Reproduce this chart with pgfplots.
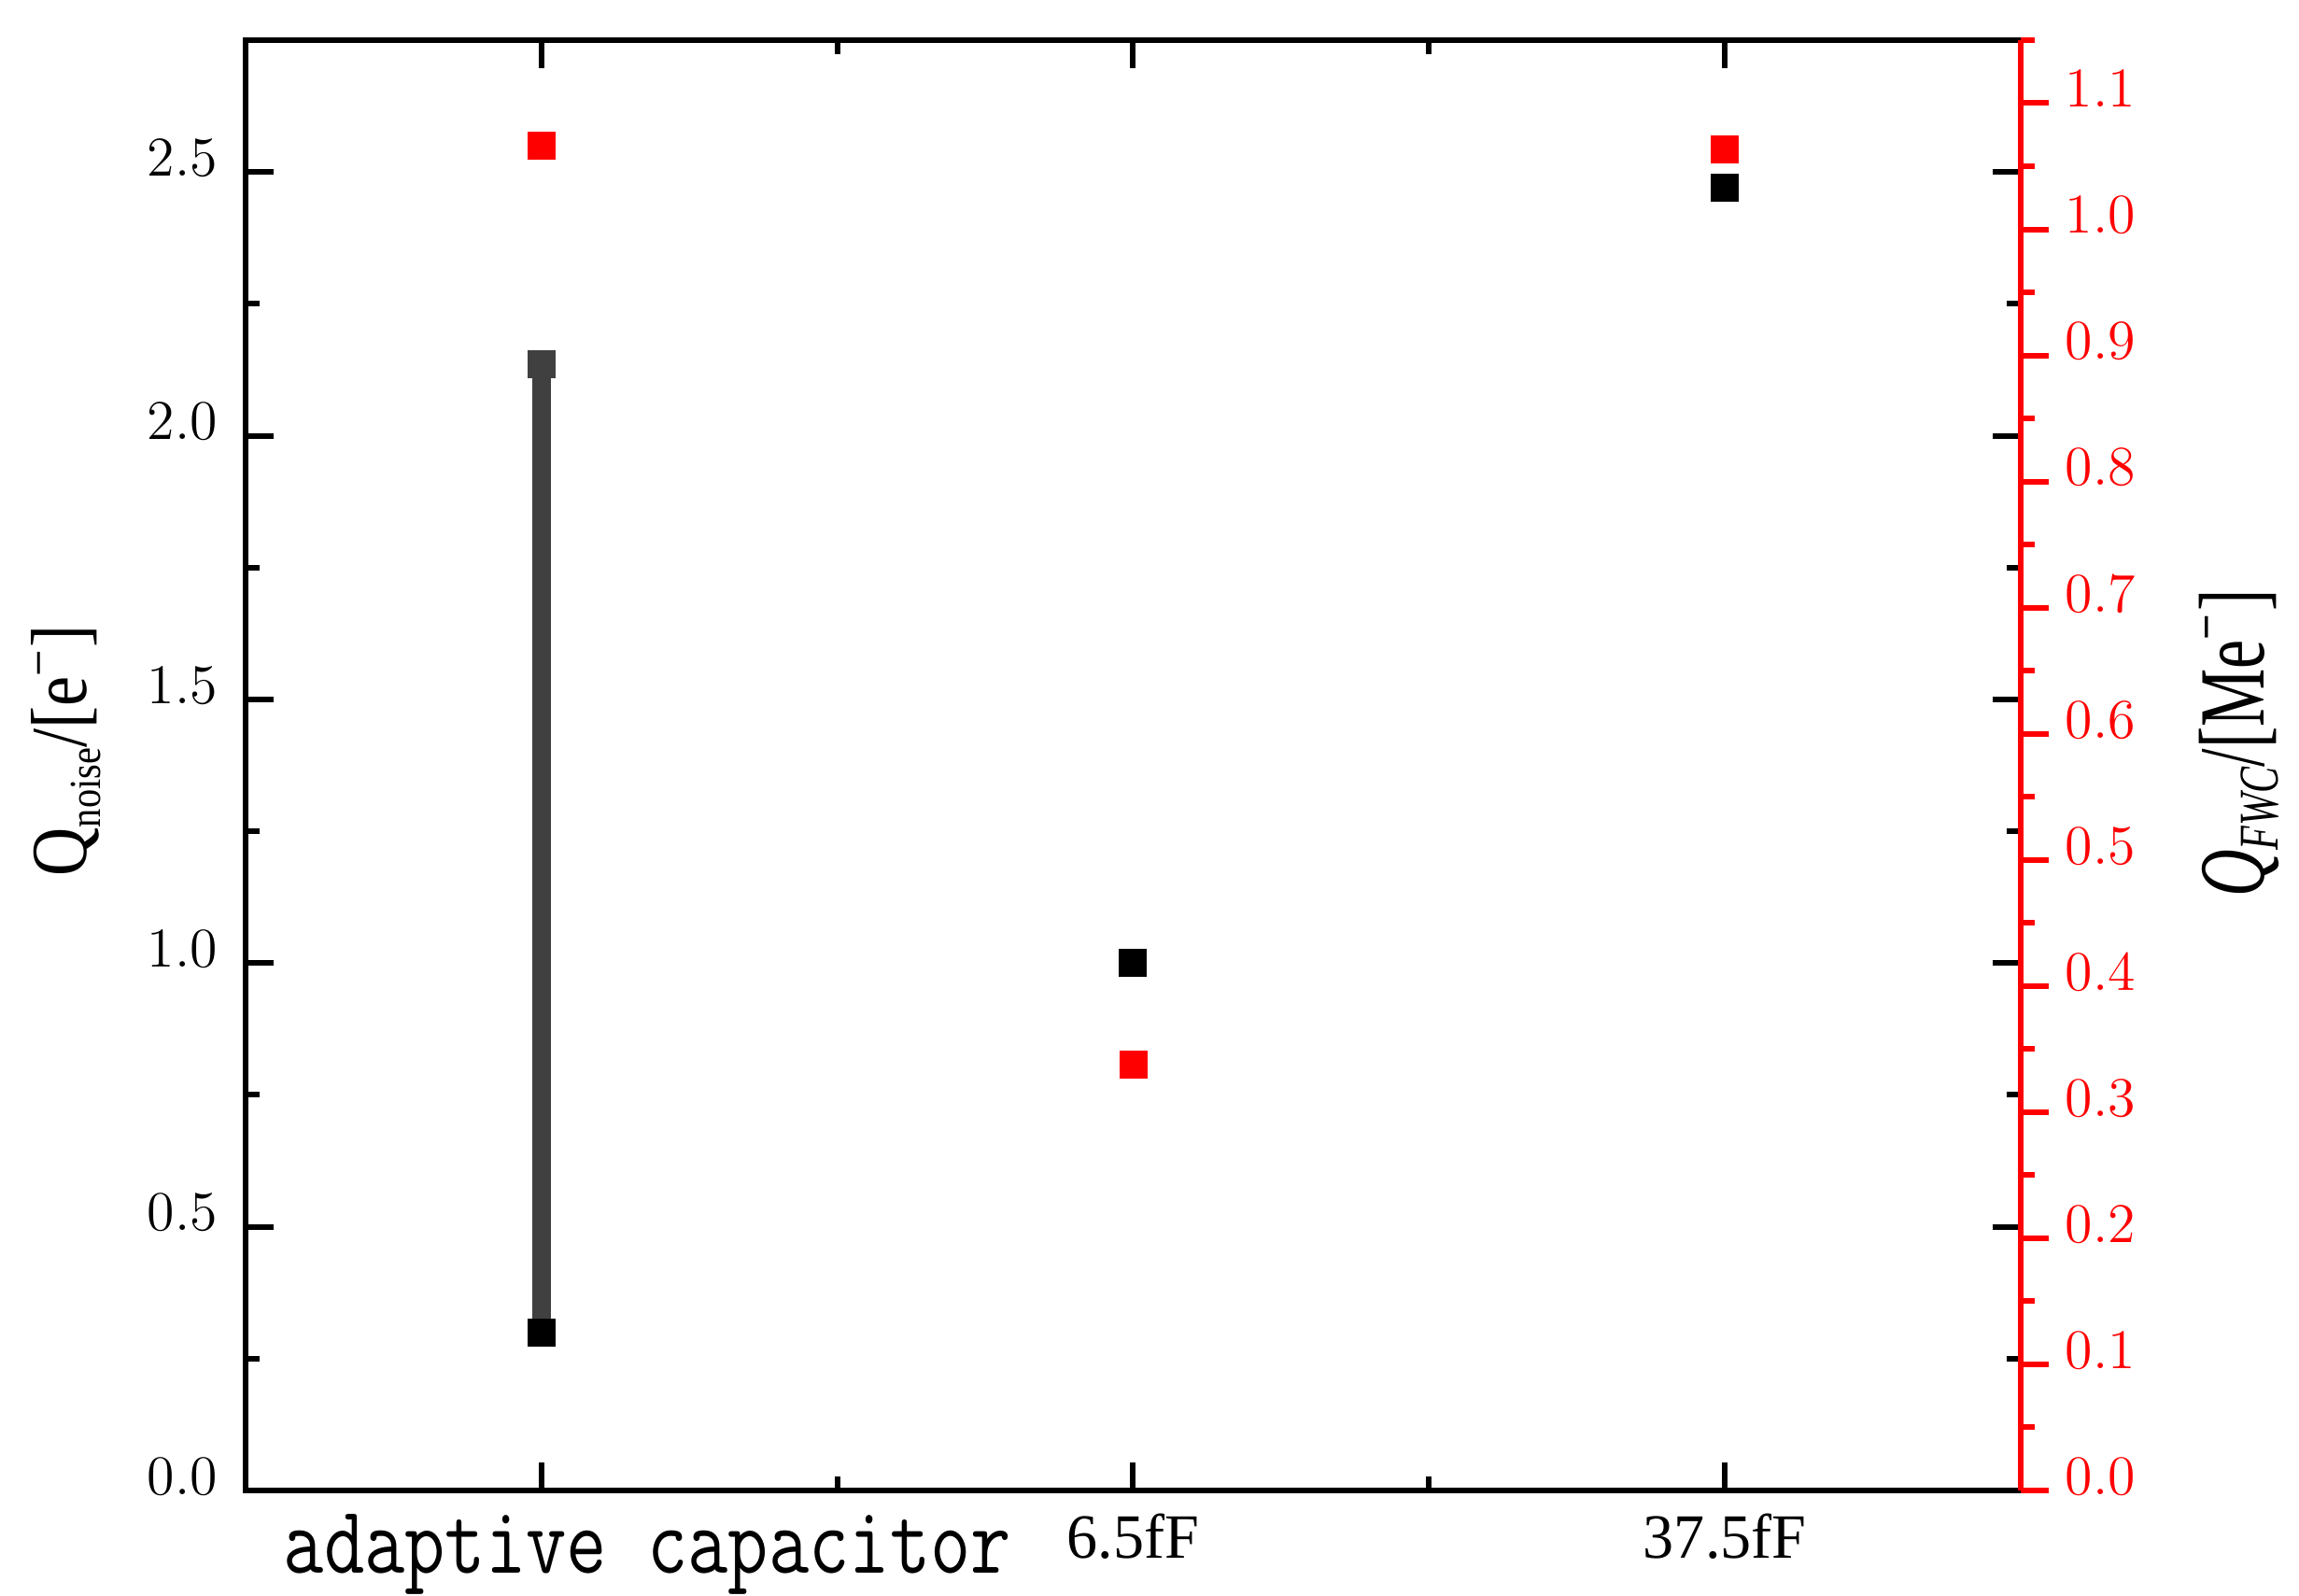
\documentclass[border=0pt]{standalone}
\usepackage{graphicx}
\usepackage{pgfplots}
\pgfplotsset{compat=1.18}
\usepackage{fontspec}
\setmainfont{Liberation Serif}
\newfontfamily\serifc[FakeStretch=0.98]{Liberation Serif}
\newfontfamily\labl[FakeStretch=0.85]{Liberation Serif}
\newfontfamily\labr[FakeStretch=0.7]{Liberation Serif}
\definecolor{dgray}{RGB}{64,64,64}
\begin{document}
\begin{tikzpicture}
\useasboundingbox (-52.6pt,-22.6pt) rectangle (439.8pt,319.2pt);
\begin{axis}[
  at={(0,0)}, anchor=south west,
  scale only axis, width=380.2pt, height=310.6pt,
  xmin=-0.5, xmax=2.5, ymin=0, ymax=2.75,
  xtick={0,1,2}, minor xtick={0.5,1.5},
  xticklabels={
    {\makebox[0pt][l]{\hspace*{-55.2pt}\scalebox{0.816}[1]{\ttfamily\fontsize{20.6}{20.6}\selectfont adaptive capacitor}}},
    {\serifc\fontsize{13.5}{13.5}\selectfont 6.5fF},
    {\serifc\fontsize{13.5}{13.5}\selectfont 37.5fF}},
  ytick={0,0.5,1,1.5,2,2.5},
  minor ytick={0.25,0.75,1.25,1.75,2.25},
  tick align=inside,
  major tick length=6pt, minor tick length=3pt,
  axis line style={line width=1.2pt, black},
  tick style={line width=1.2pt, black},
  yticklabel style={font=\fontsize{13}{13}\selectfont, xshift=-2.5pt, yshift=3pt,
    /pgf/number format/.cd, fixed, fixed zerofill, precision=1},
  xticklabel style={yshift=-1.5pt},
  ylabel={\labl\fontsize{17}{17}\selectfont Q\raisebox{-3pt}{\fontsize{9.5}{9.5}\selectfont noise}/[e\textsuperscript{−}]},
  ylabel style={at={(axis description cs:-0.101,0.51)}, anchor=center},
]
\addplot[only marks, mark=square*, mark size=2.8pt, black] coordinates {(0,0.3) (1,1.0) (2,2.47)};
\addplot[dgray, line width=4pt, line cap=butt] coordinates {(0,2.135) (0,0.29)};
\addplot[only marks, mark=square*, mark size=2.8pt, dgray] coordinates {(0,2.135)};
\end{axis}
\begin{axis}[
  at={(0,0)}, anchor=south west,
  scale only axis, width=380.2pt, height=310.6pt,
  xmin=-0.5, xmax=2.5, ymin=0, ymax=1.15,
  axis x line=none, axis y line*=right,
  ytick={0,0.1,0.2,0.3,0.4,0.5,0.6,0.7,0.8,0.9,1.0,1.1},
  minor ytick={0.05,0.15,0.25,0.35,0.45,0.55,0.65,0.75,0.85,0.95,1.05,1.15},
  tick align=outside,
  major tick length=6pt, minor tick length=3pt,
  axis line style={-, red, line width=1.3pt},
  tick style={line width=1.2pt, red},
  yticklabel style={red, font=\fontsize{13}{13}\selectfont, yshift=3pt,
    /pgf/number format/.cd, fixed, fixed zerofill, precision=1},
  ylabel={\labr\fontsize{20}{20}\selectfont\textit{Q}\raisebox{-3pt}{\fontsize{12}{12}\selectfont\textit{FWC}}/[Me\textsuperscript{−}]},
  ylabel style={at={(axis description cs:1.123,0.515)}, anchor=center},
]
\addplot[only marks, mark=square*, mark size=2.8pt, red] coordinates {(0,1.066) (1,0.338) (2,1.063)};
\end{axis}
\end{tikzpicture}
\end{document}
